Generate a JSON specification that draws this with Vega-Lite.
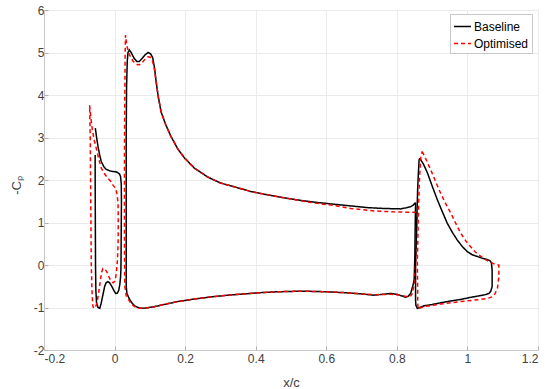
{
  "$schema": "https://vega.github.io/schema/vega-lite/v6.json",
  "width": 494,
  "height": 340,
  "autosize": {"type": "none"},
  "padding": {"left": 44, "top": 10, "right": 12, "bottom": 39},
  "background": "white",
  "config": {
    "font": "Liberation Sans",
    "view": {"stroke": "#c8c8c8", "strokeWidth": 1},
    "axis": {
      "domainColor": "#c8c8c8",
      "gridColor": "#ebebeb",
      "tickColor": "#b0b0b0",
      "tickSize": -4,
      "labelColor": "#404040",
      "titleColor": "#404040",
      "labelFontSize": 12,
      "titleFontSize": 13,
      "titleFontWeight": "normal",
      "labelExpr": "replace(datum.label, '\u2212', '-')"
    },
    "legend": {
      "orient": "none",
      "legendX": 406,
      "legendY": 4,
      "title": null,
      "fillColor": "white",
      "strokeColor": "#c8c8c8",
      "padding": 3,
      "labelFontSize": 12,
      "labelColor": "#000000",
      "labelOffset": 2,
      "rowPadding": 1,
      "symbolType": "stroke",
      "symbolSize": 289,
      "symbolStrokeWidth": 1.5
    }
  },
  "data": {"values": [
    {"s":"Baseline","p":"slat","i":0,"x":-0.0546,"y":3.22},
    {"s":"Baseline","p":"slat","i":1,"x":-0.050,"y":2.95},
    {"s":"Baseline","p":"slat","i":2,"x":-0.047,"y":2.79},
    {"s":"Baseline","p":"slat","i":3,"x":-0.042,"y":2.58},
    {"s":"Baseline","p":"slat","i":4,"x":-0.0376,"y":2.43},
    {"s":"Baseline","p":"slat","i":5,"x":-0.030,"y":2.31},
    {"s":"Baseline","p":"slat","i":6,"x":-0.0235,"y":2.25},
    {"s":"Baseline","p":"slat","i":7,"x":-0.012,"y":2.21},
    {"s":"Baseline","p":"slat","i":8,"x":-0.0045,"y":2.20},
    {"s":"Baseline","p":"slat","i":9,"x":0.005,"y":2.19},
    {"s":"Baseline","p":"slat","i":10,"x":0.0096,"y":2.17},
    {"s":"Baseline","p":"slat","i":11,"x":0.014,"y":2.14},
    {"s":"Baseline","p":"slat","i":12,"x":0.017,"y":2.08},
    {"s":"Baseline","p":"slat","i":13,"x":0.019,"y":1.9},
    {"s":"Baseline","p":"slat","i":14,"x":0.0195,"y":1.5},
    {"s":"Baseline","p":"slat","i":15,"x":0.019,"y":0.98},
    {"s":"Baseline","p":"slat","i":16,"x":0.0185,"y":0.3},
    {"s":"Baseline","p":"slat","i":17,"x":0.018,"y":-0.1},
    {"s":"Baseline","p":"slat","i":18,"x":0.017,"y":-0.28},
    {"s":"Baseline","p":"slat","i":19,"x":0.015,"y":-0.45},
    {"s":"Baseline","p":"slat","i":20,"x":0.012,"y":-0.59},
    {"s":"Baseline","p":"slat","i":21,"x":0.008,"y":-0.66},
    {"s":"Baseline","p":"slat","i":22,"x":0.003,"y":-0.67},
    {"s":"Baseline","p":"slat","i":23,"x":-0.002,"y":-0.6},
    {"s":"Baseline","p":"slat","i":24,"x":-0.008,"y":-0.5},
    {"s":"Baseline","p":"slat","i":25,"x":-0.014,"y":-0.42},
    {"s":"Baseline","p":"slat","i":26,"x":-0.019,"y":-0.39},
    {"s":"Baseline","p":"slat","i":27,"x":-0.024,"y":-0.42},
    {"s":"Baseline","p":"slat","i":28,"x":-0.028,"y":-0.5},
    {"s":"Baseline","p":"slat","i":29,"x":-0.033,"y":-0.7},
    {"s":"Baseline","p":"slat","i":30,"x":-0.038,"y":-0.9},
    {"s":"Baseline","p":"slat","i":31,"x":-0.042,"y":-1.02},
    {"s":"Baseline","p":"slat","i":32,"x":-0.047,"y":-1.0},
    {"s":"Baseline","p":"slat","i":33,"x":-0.051,"y":-0.9},
    {"s":"Baseline","p":"slat","i":34,"x":-0.053,"y":-0.6},
    {"s":"Baseline","p":"slat","i":35,"x":-0.054,"y":0.0},
    {"s":"Baseline","p":"slat","i":36,"x":-0.0545,"y":1.0},
    {"s":"Baseline","p":"slat","i":37,"x":-0.055,"y":2.0},
    {"s":"Baseline","p":"slat","i":38,"x":-0.055,"y":2.59},

    {"s":"Optimised","p":"slat","i":0,"x":-0.0707,"y":3.76},
    {"s":"Optimised","p":"slat","i":1,"x":-0.067,"y":3.45},
    {"s":"Optimised","p":"slat","i":2,"x":-0.063,"y":3.18},
    {"s":"Optimised","p":"slat","i":3,"x":-0.058,"y":2.95},
    {"s":"Optimised","p":"slat","i":4,"x":-0.052,"y":2.75},
    {"s":"Optimised","p":"slat","i":5,"x":-0.045,"y":2.5},
    {"s":"Optimised","p":"slat","i":6,"x":-0.0376,"y":2.28},
    {"s":"Optimised","p":"slat","i":7,"x":-0.028,"y":2.14},
    {"s":"Optimised","p":"slat","i":8,"x":-0.0187,"y":2.04},
    {"s":"Optimised","p":"slat","i":9,"x":-0.010,"y":1.96},
    {"s":"Optimised","p":"slat","i":10,"x":-0.0045,"y":1.88},
    {"s":"Optimised","p":"slat","i":11,"x":0.001,"y":1.82},
    {"s":"Optimised","p":"slat","i":12,"x":0.005,"y":1.74},
    {"s":"Optimised","p":"slat","i":13,"x":0.008,"y":1.62},
    {"s":"Optimised","p":"slat","i":14,"x":0.010,"y":1.4},
    {"s":"Optimised","p":"slat","i":15,"x":0.0105,"y":0.98},
    {"s":"Optimised","p":"slat","i":16,"x":0.010,"y":0.5},
    {"s":"Optimised","p":"slat","i":17,"x":0.008,"y":0.1},
    {"s":"Optimised","p":"slat","i":18,"x":0.005,"y":-0.2},
    {"s":"Optimised","p":"slat","i":19,"x":0.001,"y":-0.38},
    {"s":"Optimised","p":"slat","i":20,"x":-0.004,"y":-0.42},
    {"s":"Optimised","p":"slat","i":21,"x":-0.010,"y":-0.38},
    {"s":"Optimised","p":"slat","i":22,"x":-0.016,"y":-0.28},
    {"s":"Optimised","p":"slat","i":23,"x":-0.022,"y":-0.16},
    {"s":"Optimised","p":"slat","i":24,"x":-0.028,"y":-0.09},
    {"s":"Optimised","p":"slat","i":25,"x":-0.033,"y":-0.08},
    {"s":"Optimised","p":"slat","i":26,"x":-0.037,"y":-0.18},
    {"s":"Optimised","p":"slat","i":27,"x":-0.040,"y":-0.35},
    {"s":"Optimised","p":"slat","i":28,"x":-0.045,"y":-0.65},
    {"s":"Optimised","p":"slat","i":29,"x":-0.050,"y":-0.9},
    {"s":"Optimised","p":"slat","i":30,"x":-0.055,"y":-1.0},
    {"s":"Optimised","p":"slat","i":31,"x":-0.059,"y":-1.02},
    {"s":"Optimised","p":"slat","i":32,"x":-0.062,"y":-0.95},
    {"s":"Optimised","p":"slat","i":33,"x":-0.064,"y":-0.6},
    {"s":"Optimised","p":"slat","i":34,"x":-0.066,"y":0.0},
    {"s":"Optimised","p":"slat","i":35,"x":-0.067,"y":1.0},
    {"s":"Optimised","p":"slat","i":36,"x":-0.068,"y":2.0},
    {"s":"Optimised","p":"slat","i":37,"x":-0.069,"y":3.0},
    {"s":"Optimised","p":"slat","i":38,"x":-0.0707,"y":3.76},

    {"s":"Baseline","p":"main","i":0,"x":0.853,"y":1.47},
    {"s":"Baseline","p":"main","i":1,"x":0.845,"y":1.40},
    {"s":"Baseline","p":"main","i":2,"x":0.839,"y":1.37},
    {"s":"Baseline","p":"main","i":3,"x":0.811,"y":1.32},
    {"s":"Baseline","p":"main","i":4,"x":0.764,"y":1.33},
    {"s":"Baseline","p":"main","i":5,"x":0.717,"y":1.35},
    {"s":"Baseline","p":"main","i":6,"x":0.670,"y":1.39},
    {"s":"Baseline","p":"main","i":7,"x":0.622,"y":1.43},
    {"s":"Baseline","p":"main","i":8,"x":0.575,"y":1.47},
    {"s":"Baseline","p":"main","i":9,"x":0.528,"y":1.52},
    {"s":"Baseline","p":"main","i":10,"x":0.481,"y":1.58},
    {"s":"Baseline","p":"main","i":11,"x":0.434,"y":1.65},
    {"s":"Baseline","p":"main","i":12,"x":0.386,"y":1.73},
    {"s":"Baseline","p":"main","i":13,"x":0.339,"y":1.84},
    {"s":"Baseline","p":"main","i":14,"x":0.300,"y":1.93},
    {"s":"Baseline","p":"main","i":15,"x":0.264,"y":2.07},
    {"s":"Baseline","p":"main","i":16,"x":0.226,"y":2.28},
    {"s":"Baseline","p":"main","i":17,"x":0.198,"y":2.52},
    {"s":"Baseline","p":"main","i":18,"x":0.180,"y":2.72},
    {"s":"Baseline","p":"main","i":19,"x":0.160,"y":3.02},
    {"s":"Baseline","p":"main","i":20,"x":0.145,"y":3.30},
    {"s":"Baseline","p":"main","i":21,"x":0.132,"y":3.60},
    {"s":"Baseline","p":"main","i":22,"x":0.124,"y":3.95},
    {"s":"Baseline","p":"main","i":23,"x":0.118,"y":4.3},
    {"s":"Baseline","p":"main","i":24,"x":0.113,"y":4.65},
    {"s":"Baseline","p":"main","i":25,"x":0.108,"y":4.88},
    {"s":"Baseline","p":"main","i":26,"x":0.102,"y":4.97},
    {"s":"Baseline","p":"main","i":27,"x":0.095,"y":5.0},
    {"s":"Baseline","p":"main","i":28,"x":0.087,"y":4.95},
    {"s":"Baseline","p":"main","i":29,"x":0.078,"y":4.86},
    {"s":"Baseline","p":"main","i":30,"x":0.070,"y":4.79},
    {"s":"Baseline","p":"main","i":31,"x":0.063,"y":4.79},
    {"s":"Baseline","p":"main","i":32,"x":0.055,"y":4.87},
    {"s":"Baseline","p":"main","i":33,"x":0.047,"y":5.00},
    {"s":"Baseline","p":"main","i":34,"x":0.042,"y":5.06},
    {"s":"Baseline","p":"main","i":35,"x":0.038,"y":5.0},
    {"s":"Baseline","p":"main","i":36,"x":0.036,"y":4.8},
    {"s":"Baseline","p":"main","i":37,"x":0.034,"y":4.2},
    {"s":"Baseline","p":"main","i":38,"x":0.033,"y":3.0},
    {"s":"Baseline","p":"main","i":39,"x":0.033,"y":1.5},
    {"s":"Baseline","p":"main","i":40,"x":0.033,"y":0.0},
    {"s":"Baseline","p":"main","i":41,"x":0.033,"y":-0.5},
    {"s":"Baseline","p":"main","i":42,"x":0.035,"y":-0.67},
    {"s":"Baseline","p":"main","i":43,"x":0.042,"y":-0.80},
    {"s":"Baseline","p":"main","i":44,"x":0.050,"y":-0.90},
    {"s":"Baseline","p":"main","i":45,"x":0.057,"y":-0.96},
    {"s":"Baseline","p":"main","i":46,"x":0.066,"y":-1.0},
    {"s":"Baseline","p":"main","i":47,"x":0.076,"y":-1.02},
    {"s":"Baseline","p":"main","i":48,"x":0.090,"y":-1.01},
    {"s":"Baseline","p":"main","i":49,"x":0.113,"y":-0.98},
    {"s":"Baseline","p":"main","i":50,"x":0.140,"y":-0.93},
    {"s":"Baseline","p":"main","i":51,"x":0.179,"y":-0.86},
    {"s":"Baseline","p":"main","i":52,"x":0.226,"y":-0.80},
    {"s":"Baseline","p":"main","i":53,"x":0.274,"y":-0.75},
    {"s":"Baseline","p":"main","i":54,"x":0.321,"y":-0.71},
    {"s":"Baseline","p":"main","i":55,"x":0.368,"y":-0.68},
    {"s":"Baseline","p":"main","i":56,"x":0.415,"y":-0.65},
    {"s":"Baseline","p":"main","i":57,"x":0.462,"y":-0.63},
    {"s":"Baseline","p":"main","i":58,"x":0.509,"y":-0.62},
    {"s":"Baseline","p":"main","i":59,"x":0.556,"y":-0.62},
    {"s":"Baseline","p":"main","i":60,"x":0.600,"y":-0.63},
    {"s":"Baseline","p":"main","i":61,"x":0.650,"y":-0.65},
    {"s":"Baseline","p":"main","i":62,"x":0.700,"y":-0.68},
    {"s":"Baseline","p":"main","i":63,"x":0.735,"y":-0.71},
    {"s":"Baseline","p":"main","i":64,"x":0.760,"y":-0.69},
    {"s":"Baseline","p":"main","i":65,"x":0.783,"y":-0.67},
    {"s":"Baseline","p":"main","i":66,"x":0.800,"y":-0.69},
    {"s":"Baseline","p":"main","i":67,"x":0.815,"y":-0.73},
    {"s":"Baseline","p":"main","i":68,"x":0.825,"y":-0.76},
    {"s":"Baseline","p":"main","i":69,"x":0.833,"y":-0.73},
    {"s":"Baseline","p":"main","i":70,"x":0.839,"y":-0.67},
    {"s":"Baseline","p":"main","i":71,"x":0.845,"y":-0.5},
    {"s":"Baseline","p":"main","i":72,"x":0.849,"y":-0.35},
    {"s":"Baseline","p":"main","i":73,"x":0.851,"y":0.2},
    {"s":"Baseline","p":"main","i":74,"x":0.852,"y":0.9},
    {"s":"Baseline","p":"main","i":75,"x":0.853,"y":1.47},

    {"s":"Optimised","p":"main","i":0,"x":0.855,"y":1.24},
    {"s":"Optimised","p":"main","i":1,"x":0.844,"y":1.24},
    {"s":"Optimised","p":"main","i":2,"x":0.792,"y":1.25},
    {"s":"Optimised","p":"main","i":3,"x":0.740,"y":1.27},
    {"s":"Optimised","p":"main","i":4,"x":0.717,"y":1.29},
    {"s":"Optimised","p":"main","i":5,"x":0.670,"y":1.33},
    {"s":"Optimised","p":"main","i":6,"x":0.622,"y":1.40},
    {"s":"Optimised","p":"main","i":7,"x":0.575,"y":1.45},
    {"s":"Optimised","p":"main","i":8,"x":0.528,"y":1.51},
    {"s":"Optimised","p":"main","i":9,"x":0.481,"y":1.58},
    {"s":"Optimised","p":"main","i":10,"x":0.434,"y":1.65},
    {"s":"Optimised","p":"main","i":11,"x":0.386,"y":1.73},
    {"s":"Optimised","p":"main","i":12,"x":0.339,"y":1.84},
    {"s":"Optimised","p":"main","i":13,"x":0.300,"y":1.93},
    {"s":"Optimised","p":"main","i":14,"x":0.264,"y":2.07},
    {"s":"Optimised","p":"main","i":15,"x":0.226,"y":2.28},
    {"s":"Optimised","p":"main","i":16,"x":0.198,"y":2.52},
    {"s":"Optimised","p":"main","i":17,"x":0.180,"y":2.72},
    {"s":"Optimised","p":"main","i":18,"x":0.160,"y":3.02},
    {"s":"Optimised","p":"main","i":19,"x":0.145,"y":3.30},
    {"s":"Optimised","p":"main","i":20,"x":0.132,"y":3.60},
    {"s":"Optimised","p":"main","i":21,"x":0.124,"y":3.95},
    {"s":"Optimised","p":"main","i":22,"x":0.118,"y":4.3},
    {"s":"Optimised","p":"main","i":23,"x":0.113,"y":4.6},
    {"s":"Optimised","p":"main","i":24,"x":0.107,"y":4.82},
    {"s":"Optimised","p":"main","i":25,"x":0.101,"y":4.89},
    {"s":"Optimised","p":"main","i":26,"x":0.095,"y":4.90},
    {"s":"Optimised","p":"main","i":27,"x":0.087,"y":4.85},
    {"s":"Optimised","p":"main","i":28,"x":0.078,"y":4.76},
    {"s":"Optimised","p":"main","i":29,"x":0.070,"y":4.71},
    {"s":"Optimised","p":"main","i":30,"x":0.062,"y":4.72},
    {"s":"Optimised","p":"main","i":31,"x":0.052,"y":4.8},
    {"s":"Optimised","p":"main","i":32,"x":0.042,"y":4.95},
    {"s":"Optimised","p":"main","i":33,"x":0.035,"y":5.15},
    {"s":"Optimised","p":"main","i":34,"x":0.031,"y":5.41},
    {"s":"Optimised","p":"main","i":35,"x":0.030,"y":5.0},
    {"s":"Optimised","p":"main","i":36,"x":0.029,"y":4.0},
    {"s":"Optimised","p":"main","i":37,"x":0.028,"y":2.5},
    {"s":"Optimised","p":"main","i":38,"x":0.028,"y":0.5},
    {"s":"Optimised","p":"main","i":39,"x":0.029,"y":-0.5},
    {"s":"Optimised","p":"main","i":40,"x":0.033,"y":-0.72},
    {"s":"Optimised","p":"main","i":41,"x":0.040,"y":-0.82},
    {"s":"Optimised","p":"main","i":42,"x":0.048,"y":-0.92},
    {"s":"Optimised","p":"main","i":43,"x":0.057,"y":-0.98},
    {"s":"Optimised","p":"main","i":44,"x":0.068,"y":-1.02},
    {"s":"Optimised","p":"main","i":45,"x":0.080,"y":-1.02},
    {"s":"Optimised","p":"main","i":46,"x":0.113,"y":-0.98},
    {"s":"Optimised","p":"main","i":47,"x":0.140,"y":-0.93},
    {"s":"Optimised","p":"main","i":48,"x":0.179,"y":-0.86},
    {"s":"Optimised","p":"main","i":49,"x":0.226,"y":-0.80},
    {"s":"Optimised","p":"main","i":50,"x":0.274,"y":-0.75},
    {"s":"Optimised","p":"main","i":51,"x":0.321,"y":-0.71},
    {"s":"Optimised","p":"main","i":52,"x":0.368,"y":-0.68},
    {"s":"Optimised","p":"main","i":53,"x":0.415,"y":-0.65},
    {"s":"Optimised","p":"main","i":54,"x":0.462,"y":-0.63},
    {"s":"Optimised","p":"main","i":55,"x":0.509,"y":-0.62},
    {"s":"Optimised","p":"main","i":56,"x":0.556,"y":-0.62},
    {"s":"Optimised","p":"main","i":57,"x":0.600,"y":-0.63},
    {"s":"Optimised","p":"main","i":58,"x":0.650,"y":-0.65},
    {"s":"Optimised","p":"main","i":59,"x":0.700,"y":-0.68},
    {"s":"Optimised","p":"main","i":60,"x":0.735,"y":-0.70},
    {"s":"Optimised","p":"main","i":61,"x":0.783,"y":-0.69},
    {"s":"Optimised","p":"main","i":62,"x":0.811,"y":-0.71},
    {"s":"Optimised","p":"main","i":63,"x":0.830,"y":-0.75},
    {"s":"Optimised","p":"main","i":64,"x":0.840,"y":-0.72},
    {"s":"Optimised","p":"main","i":65,"x":0.844,"y":-0.67},
    {"s":"Optimised","p":"main","i":66,"x":0.850,"y":-0.4},
    {"s":"Optimised","p":"main","i":67,"x":0.854,"y":0.2},
    {"s":"Optimised","p":"main","i":68,"x":0.856,"y":0.9},
    {"s":"Optimised","p":"main","i":69,"x":0.857,"y":1.24},

    {"s":"Baseline","p":"flap","i":0,"x":0.865,"y":2.51},
    {"s":"Baseline","p":"flap","i":1,"x":0.875,"y":2.38},
    {"s":"Baseline","p":"flap","i":2,"x":0.887,"y":2.16},
    {"s":"Baseline","p":"flap","i":3,"x":0.900,"y":1.86},
    {"s":"Baseline","p":"flap","i":4,"x":0.915,"y":1.53},
    {"s":"Baseline","p":"flap","i":5,"x":0.929,"y":1.25},
    {"s":"Baseline","p":"flap","i":6,"x":0.943,"y":0.98},
    {"s":"Baseline","p":"flap","i":7,"x":0.957,"y":0.77},
    {"s":"Baseline","p":"flap","i":8,"x":0.971,"y":0.59},
    {"s":"Baseline","p":"flap","i":9,"x":0.985,"y":0.44},
    {"s":"Baseline","p":"flap","i":10,"x":1.000,"y":0.31},
    {"s":"Baseline","p":"flap","i":11,"x":1.014,"y":0.24},
    {"s":"Baseline","p":"flap","i":12,"x":1.028,"y":0.20},
    {"s":"Baseline","p":"flap","i":13,"x":1.042,"y":0.16},
    {"s":"Baseline","p":"flap","i":14,"x":1.056,"y":0.13},
    {"s":"Baseline","p":"flap","i":15,"x":1.064,"y":0.10},
    {"s":"Baseline","p":"flap","i":16,"x":1.068,"y":0.05},
    {"s":"Baseline","p":"flap","i":17,"x":1.070,"y":-0.12},
    {"s":"Baseline","p":"flap","i":18,"x":1.070,"y":-0.51},
    {"s":"Baseline","p":"flap","i":19,"x":1.066,"y":-0.62},
    {"s":"Baseline","p":"flap","i":20,"x":1.061,"y":-0.67},
    {"s":"Baseline","p":"flap","i":21,"x":1.050,"y":-0.70},
    {"s":"Baseline","p":"flap","i":22,"x":1.037,"y":-0.72},
    {"s":"Baseline","p":"flap","i":23,"x":1.010,"y":-0.76},
    {"s":"Baseline","p":"flap","i":24,"x":0.981,"y":-0.81},
    {"s":"Baseline","p":"flap","i":25,"x":0.950,"y":-0.85},
    {"s":"Baseline","p":"flap","i":26,"x":0.924,"y":-0.89},
    {"s":"Baseline","p":"flap","i":27,"x":0.900,"y":-0.93},
    {"s":"Baseline","p":"flap","i":28,"x":0.877,"y":-0.96},
    {"s":"Baseline","p":"flap","i":29,"x":0.865,"y":-1.0},
    {"s":"Baseline","p":"flap","i":30,"x":0.858,"y":-1.02},
    {"s":"Baseline","p":"flap","i":31,"x":0.854,"y":-0.95},
    {"s":"Baseline","p":"flap","i":32,"x":0.853,"y":-0.82},
    {"s":"Baseline","p":"flap","i":33,"x":0.853,"y":-0.4},
    {"s":"Baseline","p":"flap","i":34,"x":0.853,"y":0.04},
    {"s":"Baseline","p":"flap","i":35,"x":0.855,"y":0.6},
    {"s":"Baseline","p":"flap","i":36,"x":0.857,"y":1.22},
    {"s":"Baseline","p":"flap","i":37,"x":0.859,"y":1.8},
    {"s":"Baseline","p":"flap","i":38,"x":0.861,"y":2.16},
    {"s":"Baseline","p":"flap","i":39,"x":0.863,"y":2.47},
    {"s":"Baseline","p":"flap","i":40,"x":0.865,"y":2.51},

    {"s":"Optimised","p":"flap","i":0,"x":0.872,"y":2.67},
    {"s":"Optimised","p":"flap","i":1,"x":0.884,"y":2.46},
    {"s":"Optimised","p":"flap","i":2,"x":0.896,"y":2.24},
    {"s":"Optimised","p":"flap","i":3,"x":0.910,"y":1.96},
    {"s":"Optimised","p":"flap","i":4,"x":0.924,"y":1.69},
    {"s":"Optimised","p":"flap","i":5,"x":0.938,"y":1.45},
    {"s":"Optimised","p":"flap","i":6,"x":0.953,"y":1.22},
    {"s":"Optimised","p":"flap","i":7,"x":0.967,"y":0.98},
    {"s":"Optimised","p":"flap","i":8,"x":0.981,"y":0.75},
    {"s":"Optimised","p":"flap","i":9,"x":0.995,"y":0.57},
    {"s":"Optimised","p":"flap","i":10,"x":1.009,"y":0.43},
    {"s":"Optimised","p":"flap","i":11,"x":1.023,"y":0.30},
    {"s":"Optimised","p":"flap","i":12,"x":1.037,"y":0.21},
    {"s":"Optimised","p":"flap","i":13,"x":1.050,"y":0.13},
    {"s":"Optimised","p":"flap","i":14,"x":1.061,"y":0.08},
    {"s":"Optimised","p":"flap","i":15,"x":1.075,"y":0.03},
    {"s":"Optimised","p":"flap","i":16,"x":1.089,"y":0.0},
    {"s":"Optimised","p":"flap","i":17,"x":1.089,"y":-0.28},
    {"s":"Optimised","p":"flap","i":18,"x":1.085,"y":-0.55},
    {"s":"Optimised","p":"flap","i":19,"x":1.078,"y":-0.68},
    {"s":"Optimised","p":"flap","i":20,"x":1.070,"y":-0.75},
    {"s":"Optimised","p":"flap","i":21,"x":1.055,"y":-0.79},
    {"s":"Optimised","p":"flap","i":22,"x":1.037,"y":-0.81},
    {"s":"Optimised","p":"flap","i":23,"x":0.981,"y":-0.86},
    {"s":"Optimised","p":"flap","i":24,"x":0.924,"y":-0.92},
    {"s":"Optimised","p":"flap","i":25,"x":0.877,"y":-0.98},
    {"s":"Optimised","p":"flap","i":26,"x":0.866,"y":-1.01},
    {"s":"Optimised","p":"flap","i":27,"x":0.860,"y":-1.04},
    {"s":"Optimised","p":"flap","i":28,"x":0.859,"y":-0.8},
    {"s":"Optimised","p":"flap","i":29,"x":0.859,"y":-0.59},
    {"s":"Optimised","p":"flap","i":30,"x":0.858,"y":0.04},
    {"s":"Optimised","p":"flap","i":31,"x":0.860,"y":0.82},
    {"s":"Optimised","p":"flap","i":32,"x":0.862,"y":1.5},
    {"s":"Optimised","p":"flap","i":33,"x":0.864,"y":2.0},
    {"s":"Optimised","p":"flap","i":34,"x":0.868,"y":2.55},
    {"s":"Optimised","p":"flap","i":35,"x":0.872,"y":2.67}
  ]},
  "mark": {"type": "line", "strokeWidth": 1.5, "clip": true},
  "encoding": {
    "x": {
      "field": "x", "type": "quantitative",
      "scale": {"domain": [-0.2, 1.2], "nice": false, "zero": false},
      "axis": {"values": [-0.2, 0, 0.2, 0.4, 0.6, 0.8, 1, 1.2], "format": "~g", "title": "x/c", "labelPadding": 7, "titleY": 36, "titleBaseline": "alphabetic"}
    },
    "y": {
      "field": "y", "type": "quantitative",
      "scale": {"domain": [-2, 6], "nice": false, "zero": false},
      "axis": {"values": [-2, -1, 0, 1, 2, 3, 4, 5, 6], "title": "-Cₚ", "labelPadding": 4, "titleAngle": -90, "titleX": -24, "titleY": 175, "titleAlign": "center", "titleBaseline": "alphabetic"}
    },
    "color": {
      "field": "s", "type": "nominal",
      "scale": {"domain": ["Baseline", "Optimised"], "range": ["#000000", "#ff0000"]}
    },
    "strokeDash": {
      "field": "s", "type": "nominal",
      "scale": {"domain": ["Baseline", "Optimised"], "range": [[1, 0], [4, 3]]}
    },
    "detail": {"field": "p", "type": "nominal"},
    "order": {"field": "i", "type": "quantitative"}
  }
}
